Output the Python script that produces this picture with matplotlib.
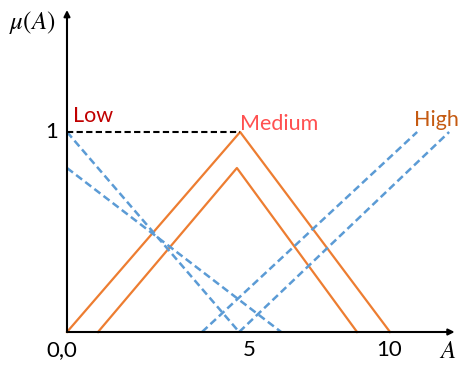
import matplotlib
matplotlib.use("Agg")
import matplotlib.pyplot as plt

plt.rcParams['font.family'] = ['Lato', 'DejaVu Sans']
plt.rcParams['mathtext.fontset'] = 'stix'

# membership functions (schematic units)
medium_outer_x = [0.0, 5.36, 10.0]
medium_outer_y = [0.0, 1.0, 0.0]
medium_inner_x = [0.96, 5.26, 8.98]
medium_inner_y = [0.0, 0.82, 0.0]

low1_x = [0.0, 5.33]
low1_y = [1.0, 0.0]
low2_x = [0.0, 6.63]
low2_y = [0.82, 0.0]

high1_x = [4.18, 10.84]
high1_y = [0.0, 1.0]
high2_x = [5.33, 11.83]
high2_y = [0.0, 1.0]

peak_x = [0.0, 5.36]
peak_y = [1.0, 1.0]

tick_labels = ["0,0", "5", "10"]
tick_pos = [-0.15, 5.63, 9.97]

orange = '#ED7D31'
blue = '#5B9BD5'

fig = plt.figure(figsize=(4.74, 3.79), dpi=100)
ax = fig.add_axes([0, 0, 1, 1])
ax.set_xlim(-2.074, 12.60)
ax.set_ylim(-0.235, 1.66)
ax.axis('off')

ax.plot(medium_outer_x, medium_outer_y, color=orange, lw=1.6)
ax.plot(medium_inner_x, medium_inner_y, color=orange, lw=1.6)
for xs, ys in [(low1_x, low1_y), (low2_x, low2_y), (high1_x, high1_y), (high2_x, high2_y)]:
    ax.plot(xs, ys, color=blue, lw=1.8, ls=(0, (3, 1.6)))
ax.plot(peak_x, peak_y, color='black', lw=1.5, ls=(0, (3, 1.6)))

# axes with arrows
ax.annotate('', xy=(12.0, 0), xytext=(0, 0),
            arrowprops=dict(arrowstyle='-|>', color='black', lw=1.5,
                            shrinkA=0, shrinkB=0, mutation_scale=9))
ax.annotate('', xy=(0, 1.61), xytext=(0, 0),
            arrowprops=dict(arrowstyle='-|>', color='black', lw=1.5,
                            shrinkA=0, shrinkB=0, mutation_scale=9))

for lab, pos in zip(tick_labels, tick_pos):
    ax.text(pos, -0.09, lab, ha='center', va='center', fontsize=16)
ax.text(11.8, -0.09, r'$A$', ha='center', va='center', fontsize=18)
ax.text(-0.47, 1.0, '1', ha='center', va='center', fontsize=16)
ax.text(-1.07, 1.55, r'$\mu(A)$', ha='center', va='center', fontsize=18)

ax.text(0.2, 1.08, 'Low', color='#C00000', ha='left', va='center', fontsize=15.5)
ax.text(5.36, 1.04, 'Medium', color='#FF5050', ha='left', va='center', fontsize=15.5)
ax.text(10.75, 1.06, 'High', color='#C55A11', ha='left', va='center', fontsize=15.5)

fig.savefig('out.png', dpi=100)
